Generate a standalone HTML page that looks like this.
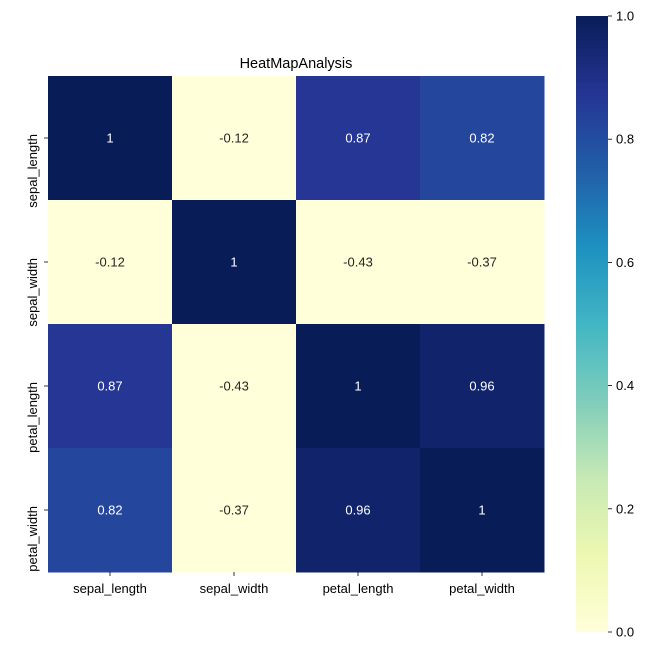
<!DOCTYPE html>
<html><head><meta charset="utf-8"><style>
body{margin:0;background:#fff;}
svg text{font-family:"Liberation Sans","DejaVu Sans",sans-serif;}
</style></head><body>
<svg id="chart" width="653" height="646" viewBox="0 0 653 646" xmlns="http://www.w3.org/2000/svg">
<defs><linearGradient id="cbgrad" x1="0" y1="1" x2="0" y2="0"></linearGradient></defs>
<text x="296" y="68" font-size="14.5" text-anchor="middle">HeatMapAnalysis</text>
<g id="cells"></g>
<g id="xticks"></g>
<g id="yticks"></g>
<rect x="576" y="16" width="32" height="616" fill="url(#cbgrad)"/>
<g id="cbticks"></g>
</svg>
<script>
const labels = ["sepal_length","sepal_width","petal_length","petal_width"];
const values = [
 [1,-0.12,0.87,0.82],
 [-0.12,1,-0.43,-0.37],
 [0.87,-0.43,1,0.96],
 [0.82,-0.37,0.96,1]
];
const cbTicks = [0,0.2,0.4,0.6,0.8,1.0];
const vmin=0, vmax=1;
const stops=["#ffffd9","#edf8b1","#c7e9b4","#7fcdbb","#41b6c4","#1d91c0","#225ea8","#253494","#081d58"];
function hex(h){return [1,3,5].map(i=>parseInt(h.substr(i,2),16));}
function cmap(v){let t=Math.max(0,Math.min(1,(v-vmin)/(vmax-vmin)))*(stops.length-1);
 let i=Math.min(Math.floor(t),stops.length-2),f=t-i;const a=hex(stops[i]),b=hex(stops[i+1]);
 return "rgb("+a.map((c,k)=>Math.round(c+(b[k]-c)*f)).join(",")+")";}
const NS="http://www.w3.org/2000/svg";
const X0=48,Y0=76,W=496,H=496;
const n=labels.length, cw=W/n, ch=H/n;
const xs=i=>X0+i*cw, ys=j=>Y0+j*ch;
function mk(tag,attrs,parent){const e=document.createElementNS(NS,tag);for(const k in attrs)e.setAttribute(k,attrs[k]);parent.appendChild(e);return e;}
const cells=document.getElementById('cells');
values.forEach((row,j)=>row.forEach((v,i)=>{
 const r=mk('rect',{x:xs(i),y:ys(j),width:cw+0.5,height:ch+0.5,fill:cmap(v)},cells);
 
 
 const t=mk('text',{x:xs(i)+cw/2,y:ys(j)+ch/2+4.5,'font-size':13,'text-anchor':'middle',fill:(v-vmin)/(vmax-vmin)>0.5?'#fff':'#262626'},cells);
 t.textContent=String(v);
 
 
}));
const xt=document.getElementById('xticks'), yt=document.getElementById('yticks');
labels.forEach((l,i)=>{
 const cx=xs(i)+cw/2;
 mk('line',{x1:cx,x2:cx,y1:Y0+H,y2:Y0+H+4,stroke:'#000','stroke-width':0.8},xt);
 const t=mk('text',{x:cx,y:Y0+H+21,'font-size':13,'text-anchor':'middle',fill:'#000'},xt);
 t.textContent=l;
 
 
 const cy=ys(i)+ch/2;
 mk('line',{x1:X0-4,x2:X0,y1:cy,y2:cy,stroke:'#000','stroke-width':0.8},yt);
 const ty=mk('text',{x:0,y:0,'font-size':13,'text-anchor':'end',fill:'#000',transform:'translate(37,'+(cy-4)+') rotate(-90)'},yt);
 ty.textContent=l;
 
 
});
const g=document.getElementById('cbgrad');
stops.forEach((s,i)=>mk('stop',{offset:(i/(stops.length-1)),'stop-color':s},g));
const cb=document.getElementById('cbticks');
const CB0=632,CBH=616;
cbTicks.forEach(v=>{
 const y=CB0-(v-vmin)/(vmax-vmin)*CBH;
 mk('line',{x1:608,x2:612,y1:y,y2:y,stroke:'#000','stroke-width':0.8},cb);
 const t=mk('text',{x:616,y:y+4.5,'font-size':13,fill:'#000'},cb);
 t.textContent=v.toFixed(1);
 
 
});
</script>
</body></html>
